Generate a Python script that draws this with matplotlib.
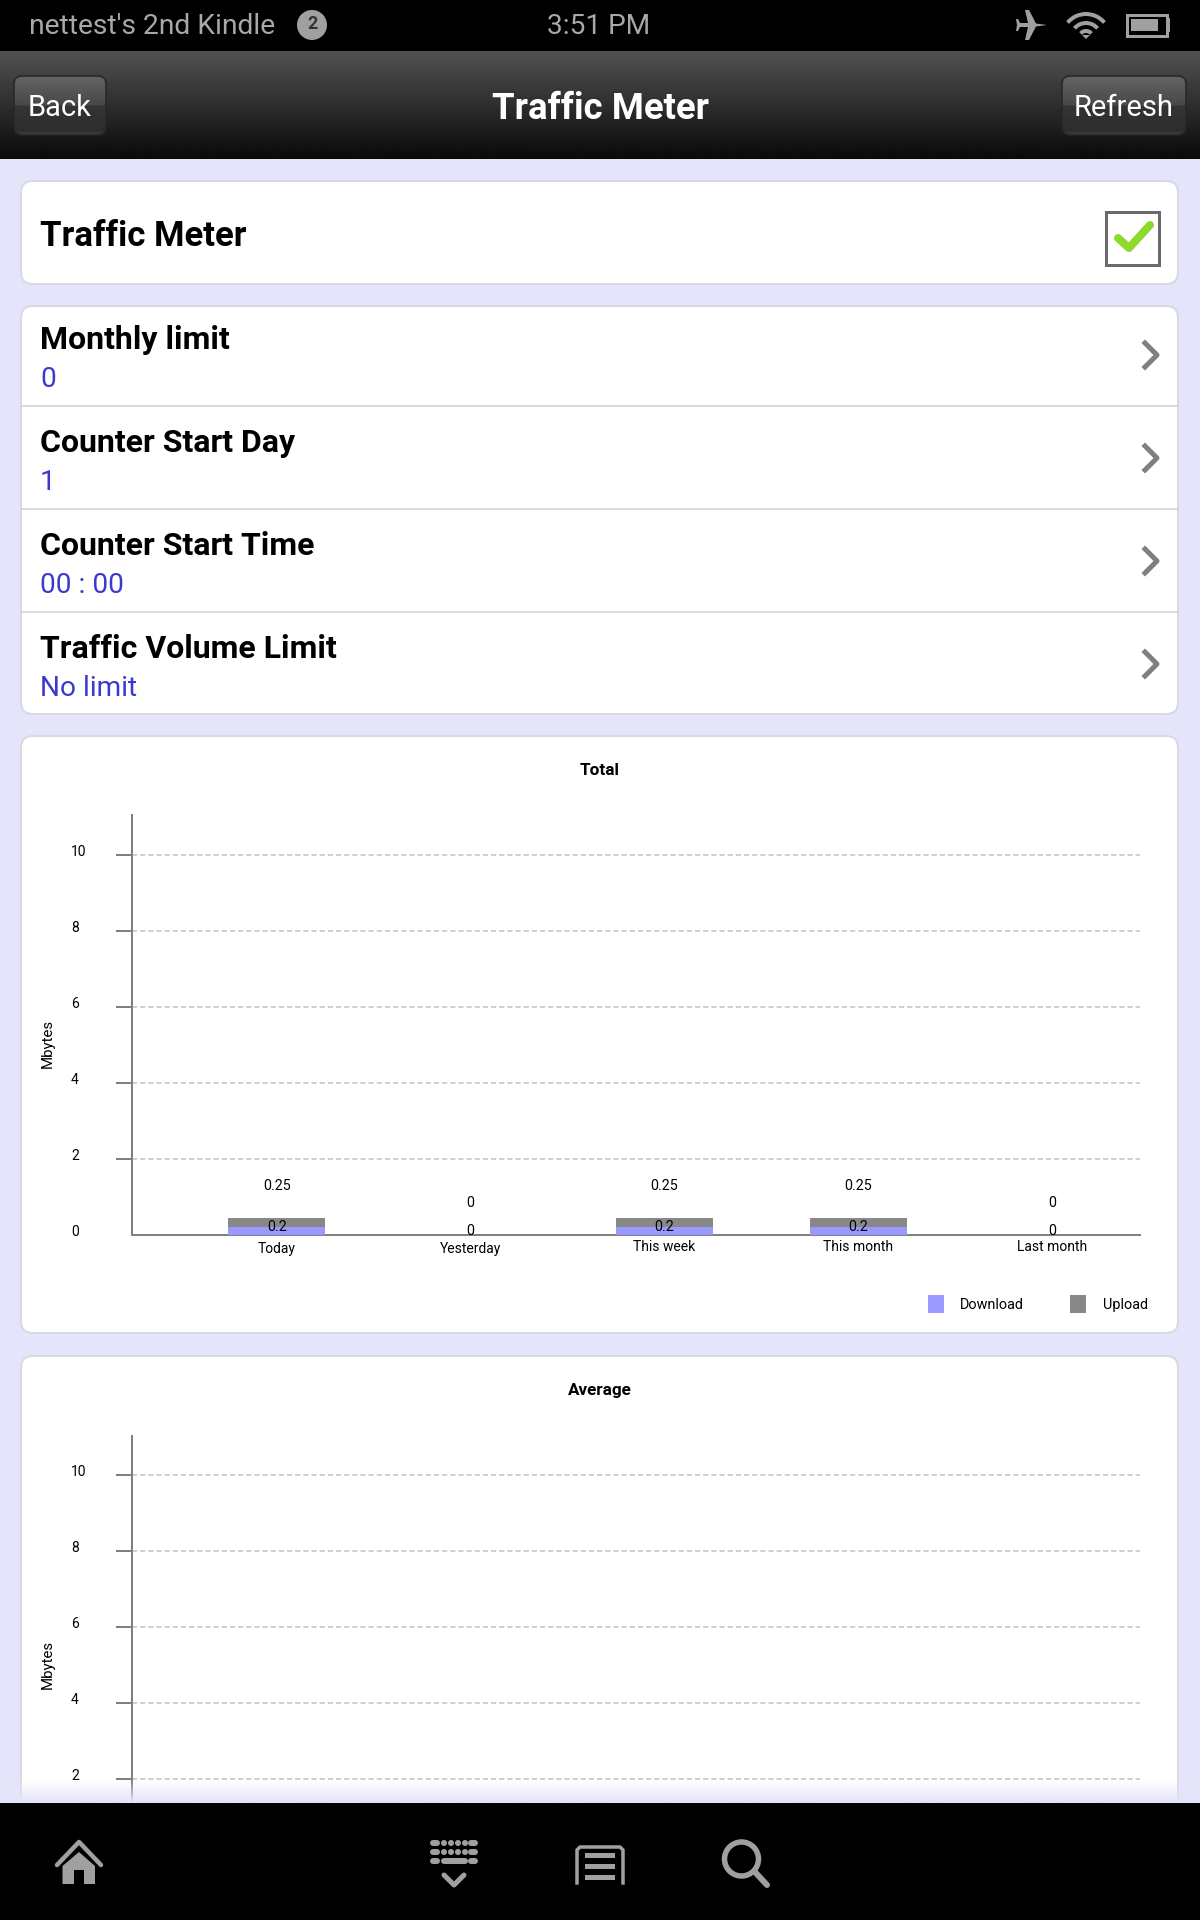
import numpy as np
import matplotlib
matplotlib.use('Agg')
import matplotlib.pyplot as plt
from matplotlib.patches import FancyBboxPatch, Rectangle, Circle, Polygon, Arc
from matplotlib.transforms import ScaledTranslation

plt.rcParams['font.family'] = ['Roboto', 'DejaVu Sans']

# Datos
categories = ['Today', 'Yesterday', 'This week', 'This month', 'Last month']
download = [0.2, 0, 0.2, 0.2, 0]
upload = [0.25, 0, 0.25, 0.25, 0]
y_ticks = [0, 2, 4, 6, 8, 10]
series_names = ['Download', 'Upload']
rows = [('Monthly limit', '0'), ('Counter Start Day', '1'),
        ('Counter Start Time', '00 : 00'), ('Traffic Volume Limit', 'No limit')]

W, H = 1200, 1920
BG = '#E4E4FA'
BLUE = '#9999FF'
GRAY = '#888888'
LINK = '#3A3ACC'
ICON = '#A0A0A0'
px = 72 / 100  # un pixel en puntos

fig = plt.figure(figsize=(W / 100, H / 100), dpi=100, facecolor=BG)


def pixel_axes(zorder):
    ax = fig.add_axes([0, 0, 1, 1], zorder=zorder)
    ax.set_xlim(0, W)
    ax.set_ylim(H, 0)
    ax.axis('off')
    return ax


def card(ax, x0, y0, x1, y1, r=12):
    ax.add_patch(FancyBboxPatch((x0 + r, y0 + r), x1 - x0 - 2 * r, y1 - y0 - 2 * r,
                                boxstyle=f'round,pad={r},rounding_size={r}',
                                fc='white', ec='#D9D9E2', lw=2 * px))


def gradient(ax, x0, y0, x1, y1, stops, levels, clip=None):
    g = np.interp(np.linspace(0, 1, 128), stops, levels)[:, None]
    im = ax.imshow(g, cmap='gray', vmin=0, vmax=255, extent=(x0, x1, y1, y0),
                   aspect='auto', interpolation='bilinear')
    if clip is not None:
        im.set_clip_path(clip)
    ax.set_xlim(0, W)
    ax.set_ylim(H, 0)


def button(ax, x0, y0, x1, y1, label):
    box = FancyBboxPatch((x0 + 8, y0 + 8), x1 - x0 - 16, y1 - y0 - 16,
                         boxstyle='round,pad=8,rounding_size=8',
                         fc='none', ec='#262626', lw=1.5 * px)
    ax.add_patch(box)
    gradient(ax, x0, y0, x1, y1, [0, 0.49, 0.51, 0.94, 1], [100, 72, 52, 46, 66], clip=box)
    ax.text((x0 + x1) / 2, (y0 + y1) / 2 + 3, label, color='white', fontsize=21,
            ha='center', va='center')


def chart(bottom_px, top_px, title, title_y):
    # El eje va en pixeles de la captura: x de 132 a 1140
    ax = fig.add_axes([132 / W, 1 - bottom_px / H, 1008 / W, (bottom_px - top_px) / H], zorder=2)
    ax.patch.set_alpha(0)
    ax.set_xlim(-0.748, 4.454)
    ax.set_ylim(0, (bottom_px - top_px) / 38)
    for s in ['top', 'right']:
        ax.spines[s].set_visible(False)
    for s in ['left', 'bottom']:
        ax.spines[s].set_color('#808080')
        ax.spines[s].set_linewidth(2 * px)
    ax.set_yticks(y_ticks)
    ax.set_xticks(range(len(categories)))
    ax.set_xticklabels(categories)
    ax.tick_params(axis='y', length=16 * px, width=2 * px, color='#808080', pad=45 * px,
                   labelsize=10)
    ax.tick_params(axis='x', length=0, pad=5 * px, labelsize=10)
    ax.grid(axis='y', color='#C4C4C4', lw=1.6 * px, dashes=(3.2, 1.9))
    ax.set_axisbelow(True)
    ax.yaxis.get_gridlines()[0].set_visible(False)
    ax.yaxis.get_major_ticks()[0].tick1line.set_visible(False)
    for lab in ax.get_yticklabels():
        lab.set_ha('left')
        lab.set_transform(lab.get_transform() + ScaledTranslation(0, 5 / 100, fig.dpi_scale_trans))
    for lab, txt in zip(ax.get_xticklabels(), categories):
        if 'y' in txt:
            lab.set_transform(lab.get_transform() + ScaledTranslation(0, -2 / 100, fig.dpi_scale_trans))
    fig.text(48 / W, 1 - (top_px + 228) / H, 'Mbytes', rotation=90, fontsize=10.8,
             ha='center', va='center', zorder=3)
    fig.text(600 / W, 1 - title_y / H, title, fontsize=12.3, fontweight='bold',
             ha='center', va='center', zorder=3)
    return ax


bg = pixel_axes(0)

# Barra de estado y cabecera
bg.add_patch(Rectangle((0, 0), W, 51, fc='black', ec='none'))
gradient(bg, 0, 51, W, 159, [0, 1], [82, 10])
bg.text(29, 27, "nettest's 2nd Kindle", color='#A8A8A8', fontsize=20.3, va='center')
bg.add_patch(Circle((312, 25), 15, fc=ICON, ec='none'))
bg.text(312, 24, '2', color='#333333', fontsize=13, fontweight='bold', ha='center', va='center')
bg.text(599, 27, '3:51 PM', color='#A8A8A8', fontsize=20.2, ha='center', va='center')

# Avion
bg.add_patch(Polygon([(1047, 25), (1036, 23.5), (1029, 10), (1025, 10), (1028, 23), (1020, 23),
                      (1018, 19), (1016, 19), (1017, 25), (1016, 31), (1018, 31), (1020, 27),
                      (1028, 27), (1025, 40), (1029, 40), (1036, 26.5)],
                     fc=ICON, ec='none'))
# Wifi
for r, sweep in [(24, 50), (15, 50), (7, 50)]:
    bg.add_patch(Arc((1086, 38), 2 * r, 2 * r, theta1=270 - sweep, theta2=270 + sweep,
                     color=ICON, lw=4 * px))
bg.add_patch(Polygon([(1082, 35), (1090, 35), (1086, 39)], fc=ICON, ec='none'))
# Bateria
bg.add_patch(Rectangle((1126.5, 14.5), 40, 21, fc='none', ec=ICON, lw=3 * px))
bg.add_patch(Rectangle((1131, 19), 27, 12, fc=ICON, ec='none'))
bg.add_patch(Rectangle((1167, 18), 3, 14, fc=ICON, ec='none'))

bg.text(600, 109, 'Traffic Meter', color='white', fontsize=26.3, fontweight='bold', ha='center', va='center')
button(bg, 14, 76, 106, 135, 'Back')
button(bg, 1062, 76, 1186, 135, 'Refresh')

# Tarjetas
card(bg, 21, 181, 1178, 284)
bg.text(40, 236, 'Traffic Meter', fontsize=25, fontweight='bold', va='center')
bg.add_patch(Rectangle((1106, 212), 53, 53, fc='white', ec='#6A6A6A', lw=3 * px))
bg.plot([1118, 1129, 1150], [238, 248, 225], color='#8FD82C', lw=8 * px, solid_capstyle='round',
        solid_joinstyle='round')

card(bg, 21, 306, 1178, 714)
row_tops = [338, 441, 544, 647]
for (name, val), y in zip(rows, row_tops):
    bg.text(40, y + 2, name, fontsize=23, fontweight='bold', va='center')
    bg.text(40, y + 41.5, val, fontsize=20.2, color=LINK, va='center')
    bg.plot([1145, 1157, 1145], [y + 5, y + 17, y + 29], color='#808080', lw=5 * px)
for y in [406, 509, 612]:
    bg.plot([22, 1177], [y, y], color='#CFCFCF', lw=1.5 * px)

card(bg, 21, 736, 1178, 1333)
card(bg, 21, 1356, 1178, 1900)

# Grafico Total
ax1 = chart(1235, 815, 'Total', 770)
x = np.arange(len(categories))
b1 = ax1.bar(x, download, width=0.5, color=BLUE, label=series_names[0], zorder=3)
b2 = ax1.bar(x, upload, width=0.5, bottom=download, color=GRAY, label=series_names[1], zorder=3)
for i, (d, u) in enumerate(zip(download, upload)):
    ax1.annotate(f'{d:g}', (i, d / 2), xytext=(0, 4 * px), textcoords='offset points',
                 ha='center', va='center', fontsize=10.3, zorder=4)
    ax1.annotate(f'{u:g}', (i, d + u), xytext=(0, 32 * px), textcoords='offset points',
                 ha='center', va='center', fontsize=10.3, zorder=4)
ax1.legend(handles=[b1, b2], ncols=2, frameon=False, fontsize=10.4, loc='center right',
           bbox_to_anchor=(1148 / W, 1 - 1304 / H), bbox_transform=fig.transFigure,
           borderpad=0, borderaxespad=0, handlelength=1.1, handleheight=1.55,
           handletextpad=1.15, columnspacing=3.2)

# Grafico Average (las barras quedan tapadas por la barra inferior)
ax2 = chart(1855, 1436, 'Average', 1390)

# Barra inferior, por encima de todo
top = pixel_axes(5)
fade = np.zeros((32, 1, 4))
fade[:, :, :3] = matplotlib.colors.to_rgb(BG)
fade[:, 0, 3] = np.linspace(0, 1, 32)
top.imshow(fade, extent=(0, W, 1803, 1780), aspect='auto', interpolation='bilinear')
top.set_xlim(0, W)
top.set_ylim(H, 0)
top.add_patch(Rectangle((0, 1803), W, H - 1803, fc='black', ec='none'))

# Casa
top.plot([57, 79, 101], [1865, 1842, 1865], color=ICON, lw=4.5 * px, solid_capstyle='round')
top.add_patch(Polygon([(62.5, 1884), (62.5, 1866), (79, 1852), (95, 1866), (95, 1884), (84, 1884),
                       (84, 1870), (74, 1870), (74, 1884)], fc=ICON, ec='none'))
# Teclado
for ky in [1843, 1852, 1861]:
    top.plot([433, 437], [ky, ky], color=ICON, lw=6 * px, solid_capstyle='round')
    top.plot([471, 475], [ky, ky], color=ICON, lw=6 * px, solid_capstyle='round')
for ky in [1843, 1852]:
    for kx in [444, 451, 458, 465]:
        top.add_patch(Circle((kx, ky), 3, fc=ICON, ec='none'))
top.plot([444, 465], [1861, 1861], color=ICON, lw=6 * px, solid_capstyle='round')
top.plot([444, 454, 464], [1875, 1885, 1875], color=ICON, lw=5 * px, solid_capstyle='round')
# Lista
top.plot([577, 577, 580, 620, 623, 623], [1883, 1850, 1847, 1847, 1850, 1883], color=ICON, lw=3.5 * px)
for ly in [1853, 1864, 1875]:
    top.add_patch(Rectangle((585, ly), 30, 4.5, fc=ICON, ec='none'))
# Lupa
top.add_patch(Circle((741.5, 1859), 17, fc='none', ec=ICON, lw=5.5 * px))
top.plot([755, 767], [1872, 1885], color=ICON, lw=6 * px, solid_capstyle='round')

fig.savefig('out.png', dpi=100, facecolor=BG)
